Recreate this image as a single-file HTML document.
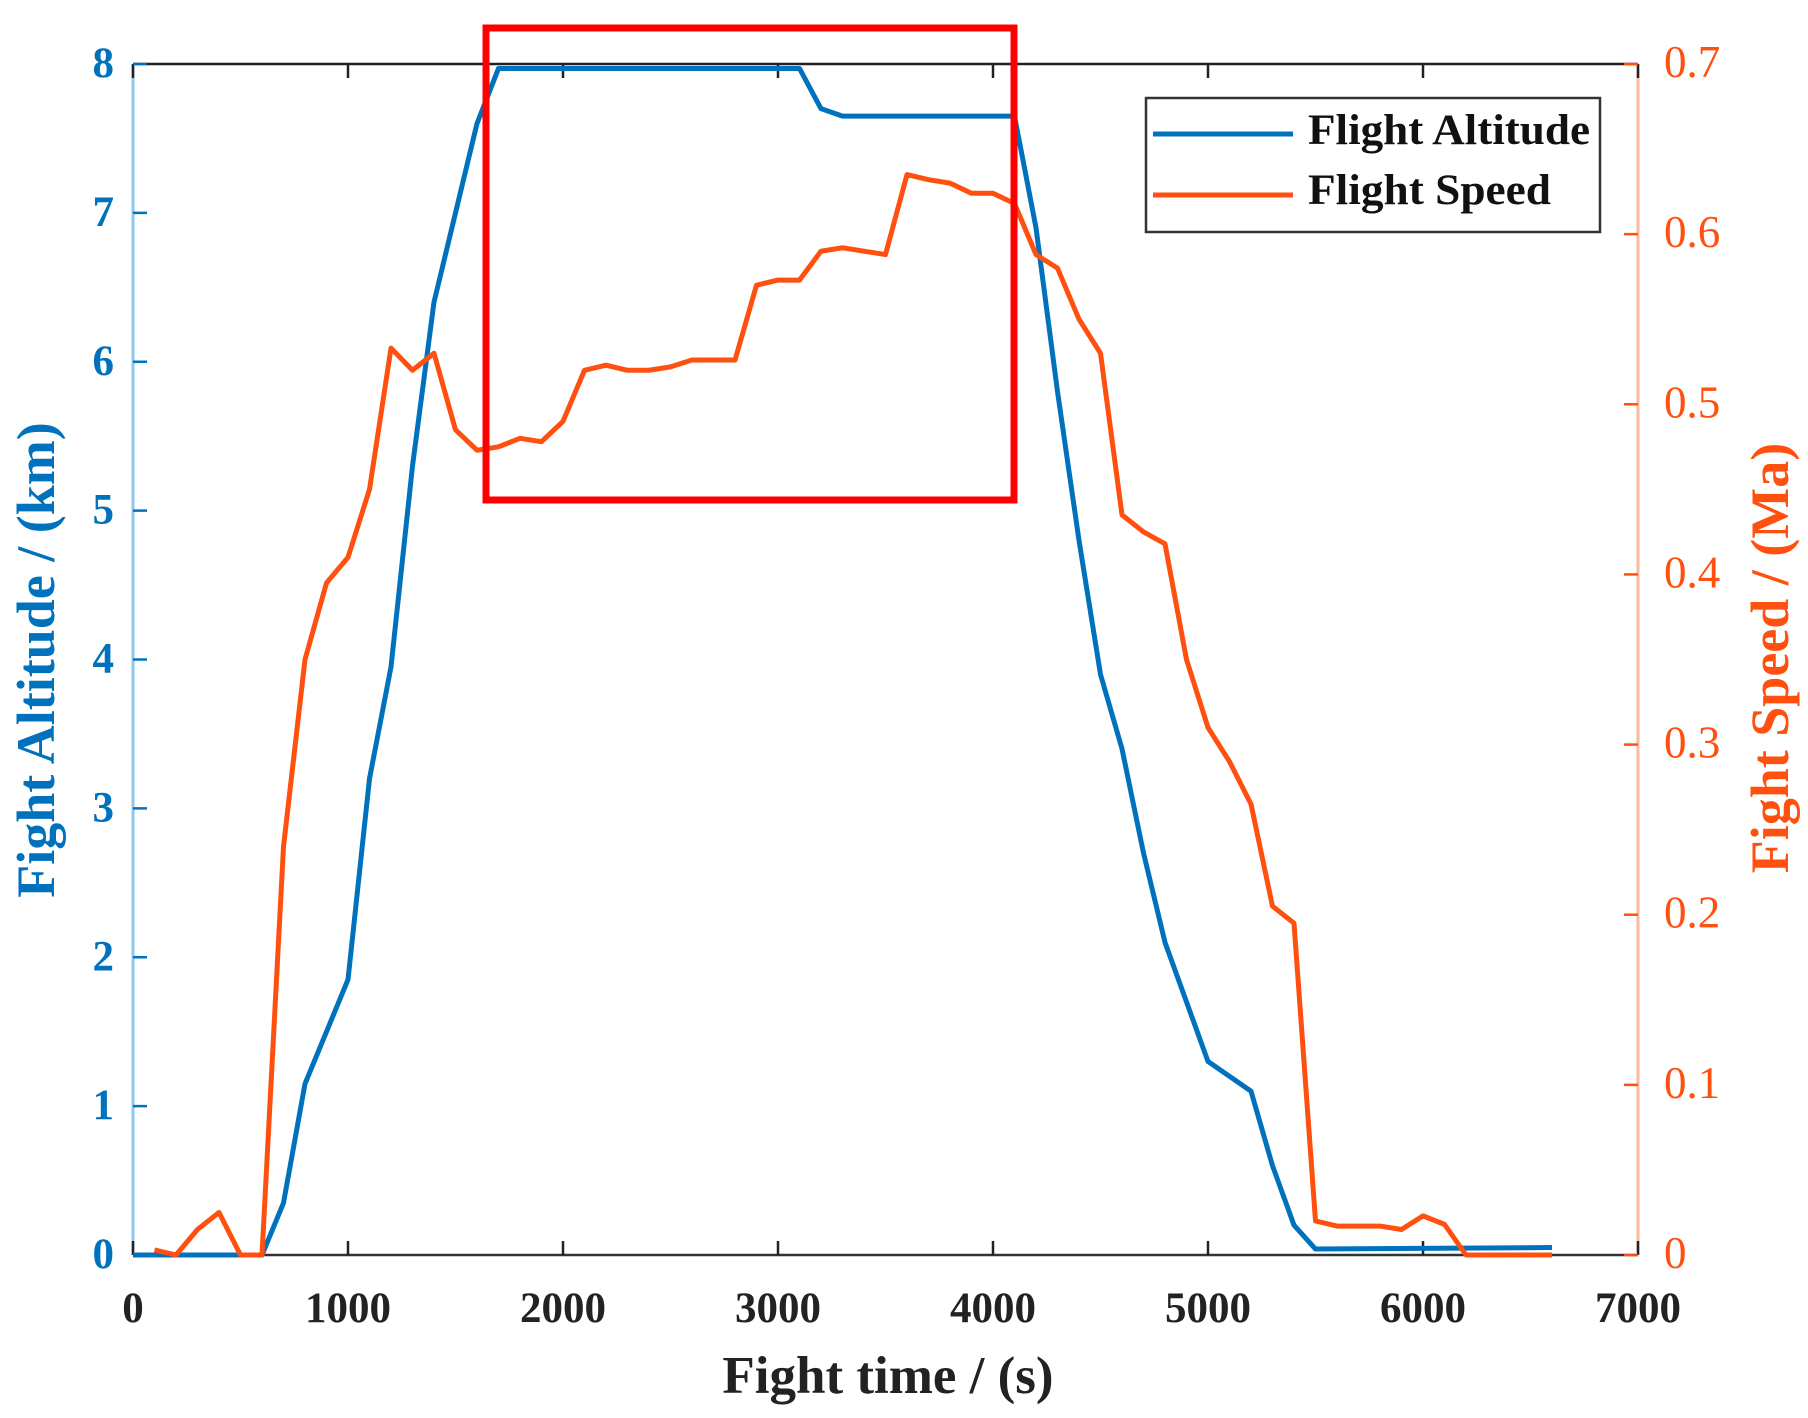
<!DOCTYPE html>
<html><head><meta charset="utf-8"><style>
html,body{margin:0;padding:0;background:#fff;}
svg{display:block;font-family:"Liberation Serif",serif;}
</style></head><body>
<svg id="s" width="1808" height="1418" viewBox="0 0 1808 1418" xmlns="http://www.w3.org/2000/svg">
<rect width="1808" height="1418" fill="#fff"/>
<g id="g"></g>
<!-- legend -->
<rect x="1146" y="98" width="454" height="134" fill="#fff" stroke="#333" stroke-width="2.5"/>
<line x1="1153" y1="134" x2="1293" y2="134" stroke="#0072BD" stroke-width="5"/>
<line x1="1153" y1="195" x2="1293" y2="195" stroke="#FF5010" stroke-width="5"/>
<text x="1308" y="144" font-size="43" font-weight="bold" fill="#111" textLength="282" lengthAdjust="spacingAndGlyphs">Flight Altitude</text>
<text x="1308" y="204" font-size="43" font-weight="bold" fill="#111" textLength="243" lengthAdjust="spacingAndGlyphs">Flight Speed</text>
<!-- titles -->
<text x="888" y="1393" font-size="53" font-weight="bold" fill="#222" text-anchor="middle">Fight time / (s)</text>
<text transform="translate(54,660) rotate(-90)" font-size="54" font-weight="bold" fill="#0072BD" text-anchor="middle">Fight Altitude / (km)</text>
<text transform="translate(1788,658) rotate(-90)" font-size="54" font-weight="bold" fill="#FF5010" text-anchor="middle">Fight Speed / (Ma)</text>
<!-- red box -->
<rect x="486" y="28" width="528" height="472" fill="none" stroke="#FF0000" stroke-width="7"/>
</svg>
<script>
var L=133,R=1638,T=64,B=1255;
function X(t){return L+t*(R-L)/7000;}
function YA(a){return B-a*(B-T)/8;}
function YS(s){return B-s*(B-T)/0.7;}
var g=document.getElementById('g'),h='';
h+='<line x1="'+L+'" y1="'+T+'" x2="'+R+'" y2="'+T+'" stroke="#222" stroke-width="2.5"/>';
h+='<line x1="'+L+'" y1="'+B+'" x2="'+R+'" y2="'+B+'" stroke="#333" stroke-width="2.5"/>';
h+='<line x1="'+L+'" y1="'+T+'" x2="'+L+'" y2="'+B+'" stroke="#8CC8EA" stroke-width="3"/>';
h+='<line x1="'+R+'" y1="'+T+'" x2="'+R+'" y2="'+B+'" stroke="#FFB8A0" stroke-width="3"/>';
for(var i=0;i<=7;i++){var x=X(i*1000);
h+='<line x1="'+x+'" y1="'+B+'" x2="'+x+'" y2="'+(B-14)+'" stroke="#222" stroke-width="2.5"/>';
h+='<line x1="'+x+'" y1="'+T+'" x2="'+x+'" y2="'+(T+14)+'" stroke="#222" stroke-width="2.5"/>';
h+='<text x="'+x+'" y="1322" font-size="43" font-weight="bold" fill="#222" text-anchor="middle">'+(i*1000)+'</text>';}
for(var i=0;i<=8;i++){var y=YA(i);
h+='<line x1="'+L+'" y1="'+y+'" x2="'+(L+14)+'" y2="'+y+'" stroke="#0072BD" stroke-width="2.5"/>';
h+='<text x="114" y="'+(y+13)+'" font-size="43" font-weight="bold" fill="#0072BD" text-anchor="end">'+i+'</text>';}
for(var i=0;i<=7;i++){var y=YS(i/10);
h+='<line x1="'+R+'" y1="'+y+'" x2="'+(R-14)+'" y2="'+y+'" stroke="#FF5010" stroke-width="2.5"/>';
h+='<text x="1664" y="'+(y+13)+'" font-size="45" fill="#FF5010">'+(i==0?'0':(i/10).toFixed(1))+'</text>';}
var A=[[0,0],[600,0],[700,0.35],[800,1.15],[900,1.5],[1000,1.85],[1100,3.2],[1200,3.95],[1300,5.3],[1400,6.4],[1500,7.0],[1600,7.6],[1700,7.97],[3100,7.97],[3200,7.7],[3300,7.65],[4100,7.65],[4200,6.9],[4300,5.8],[4400,4.8],[4500,3.9],[4600,3.4],[4700,2.7],[4800,2.1],[4900,1.7],[5000,1.3],[5100,1.2],[5200,1.1],[5300,0.6],[5400,0.2],[5500,0.04],[6600,0.05]];
var S=[[100,0.003],[200,0],[300,0.015],[400,0.025],[500,0],[600,0],[700,0.24],[800,0.35],[900,0.395],[1000,0.41],[1100,0.45],[1200,0.533],[1300,0.52],[1400,0.53],[1500,0.485],[1600,0.473],[1700,0.475],[1800,0.48],[1900,0.478],[2000,0.49],[2100,0.52],[2200,0.523],[2300,0.52],[2400,0.52],[2500,0.522],[2600,0.526],[2700,0.526],[2800,0.526],[2900,0.57],[3000,0.573],[3100,0.573],[3200,0.59],[3300,0.592],[3400,0.59],[3500,0.588],[3600,0.635],[3700,0.632],[3800,0.63],[3900,0.624],[4000,0.624],[4100,0.618],[4200,0.588],[4300,0.58],[4400,0.55],[4500,0.53],[4600,0.435],[4700,0.425],[4800,0.418],[4900,0.35],[5000,0.31],[5100,0.29],[5200,0.265],[5300,0.205],[5400,0.195],[5500,0.02],[5600,0.017],[5700,0.017],[5800,0.017],[5900,0.015],[6000,0.023],[6100,0.018],[6200,0],[6600,0]];
h+='<polyline fill="none" stroke="#0072BD" stroke-width="5" stroke-linejoin="round" points="'+A.map(function(p){return X(p[0])+','+YA(p[1]);}).join(' ')+'"/>';
h+='<polyline fill="none" stroke="#FF5010" stroke-width="5" stroke-linejoin="round" points="'+S.map(function(p){return X(p[0])+','+YS(p[1]);}).join(' ')+'"/>';
g.innerHTML=h;
</script>
</body></html>
